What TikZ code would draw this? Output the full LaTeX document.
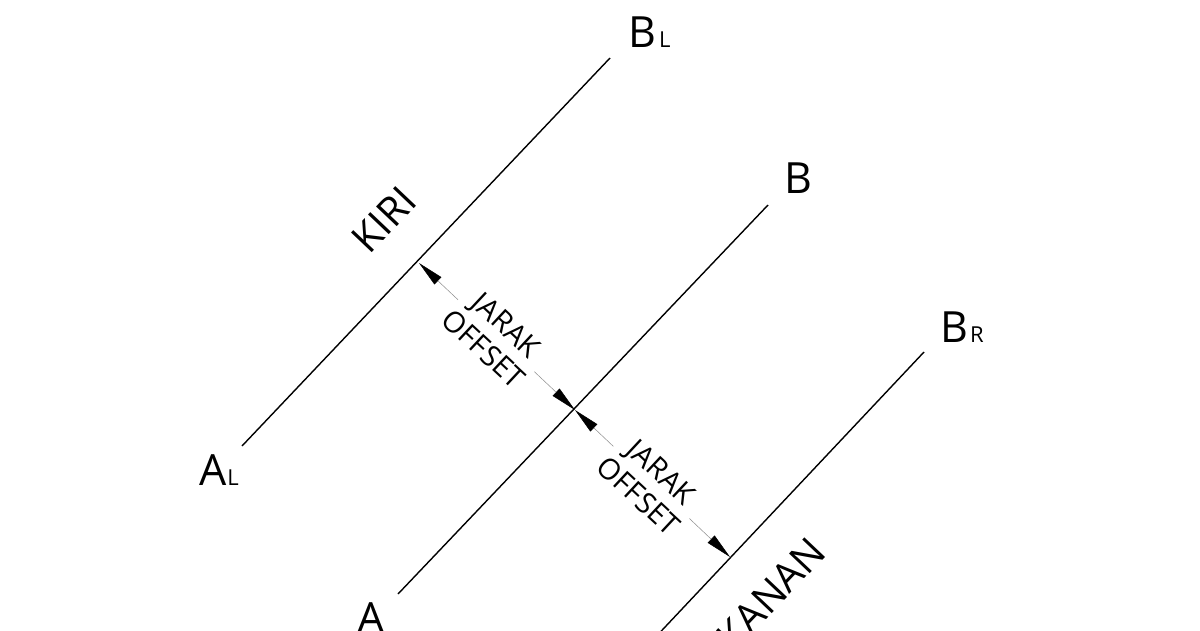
\documentclass[tikz,border=0pt]{standalone}
\usepackage{fontspec}
\setmainfont{Open Sans}
\usetikzlibrary{arrows.meta}
\newcommand{\subfont}{\fontsize{22}{22}\selectfont}
\begin{document}
\begin{tikzpicture}[x=1pt,y=-1pt,
  mainline/.style={line width=1.4pt,black},
  dimline/.style={line width=0.5pt,black!45,
    {Triangle[length=26pt,width=10pt,fill=black,color=black]}-{Triangle[length=26pt,width=10pt,fill=black,color=black]}},
  biglabel/.style={font=\fontsize{43}{43}\selectfont,inner sep=0pt,anchor=base west},
  sidelabel/.style={font=\fontsize{40}{40}\selectfont,inner sep=0pt},
  dimlabel/.style={font=\fontsize{29}{33}\selectfont,align=center,fill=white,inner sep=2pt,rotate=-43}]
\useasboundingbox (0,0) rectangle (1200,630);
\fill[white] (0,0) rectangle (1200,630);
\begin{scope}
\clip (0,0) rectangle (1200,630);
% line end points
\coordinate (aL) at (242,446);
\coordinate (bL) at (610,58);
\coordinate (aM) at (398,594);
\coordinate (bM) at (768,205);
\coordinate (aR) at (650,643);
\coordinate (bR) at (924,352);
\draw[mainline] (aL) -- (bL);
\draw[mainline] (aM) -- (bM);
\draw[mainline] (aR) -- (bR);
% dimension points
\coordinate (p1) at (419,263);
\coordinate (p2) at (575,410);
\coordinate (p3) at (730,557);
\draw[dimline] (p1) -- (p2);
\draw[dimline] (p2) -- (p3);
\node[dimlabel] (d1) at (495,337) {JARAK\\OFFSET};
\node[dimlabel] (d2) at (650,484) {JARAK\\OFFSET};
% labels
\node[biglabel] (tAL) at (199,485) {A\kern1pt{\subfont L}};
\node[biglabel] (tBL) at (628,47) {B\kern3pt{\subfont L}};
\node[biglabel] (tB) at (784,193) {B};
\node[biglabel] (tBR) at (940,342) {B\kern2pt{\subfont R}};
\node[biglabel] (tA) at (357,633) {A};
\node[sidelabel,rotate=46.5] (kiri) at (384,220) {KIRI};
\node[sidelabel,rotate=46.5] (kanan) at (771,594) {KANAN};
\end{scope}
\end{tikzpicture}
\end{document}
